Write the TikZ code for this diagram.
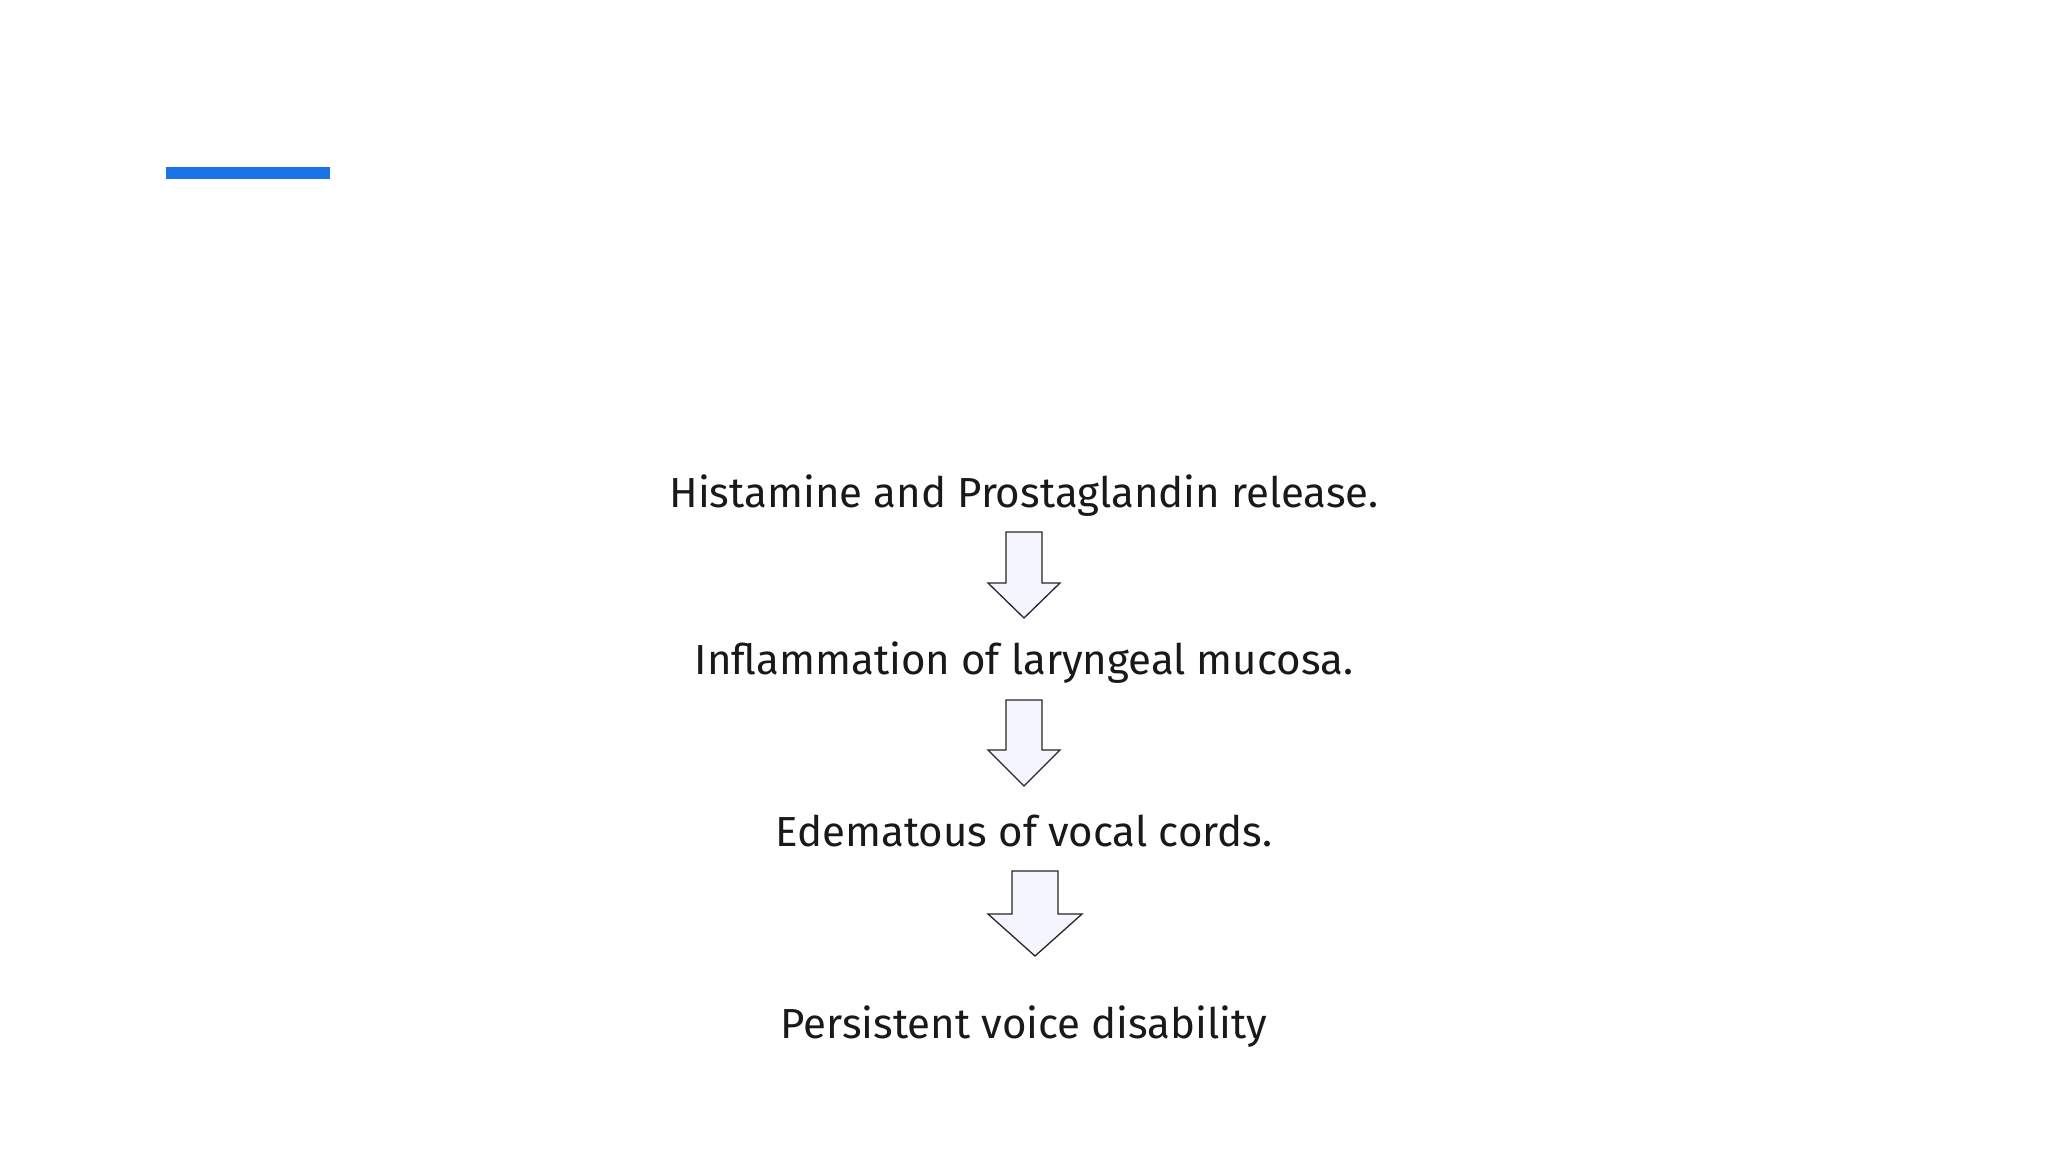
\documentclass[tikz,border=0pt]{standalone}
\usepackage{fontspec}
\setmainfont{Fira Sans}
\begin{document}
\begin{tikzpicture}[x=1pt,y=-1pt,
  lbl/.style={font=\fontsize{42}{50}\selectfont, text=black!90, inner sep=0pt, anchor=center},
  arr/.style={draw=black!85, fill=blue!4, line width=1.3pt, line join=miter}]
\useasboundingbox (0,0) rectangle (2048,1152);
\fill[white] (0,0) rectangle (2048,1152);
\fill[blue!60!cyan!90!black, fill={rgb,255:red,26;green,115;blue,232}] (166,167) rectangle (330,179);
\node[lbl] (t1) at (1024,496) {Histamine and Prostaglandin release.};
\node[lbl] (t2) at (1024,663) {Inflammation of laryngeal mucosa.};
\node[lbl] (t3) at (1024,831) {Edematous of vocal cords.};
\node[lbl] (t4) at (1024,1027) {Persistent voice disability};
\draw[arr] (1006,532) -- (1042,532) -- (1042,583) -- (1060,583) -- (1024,618) -- (988,583) -- (1006,583) -- cycle;
\draw[arr] (1006,700) -- (1042,700) -- (1042,750) -- (1060,750) -- (1024,786) -- (988,750) -- (1006,750) -- cycle;
\draw[arr] (1012,871) -- (1058,871) -- (1058,914) -- (1082,914) -- (1035,956) -- (988,914) -- (1012,914) -- cycle;
\end{tikzpicture}
\end{document}
